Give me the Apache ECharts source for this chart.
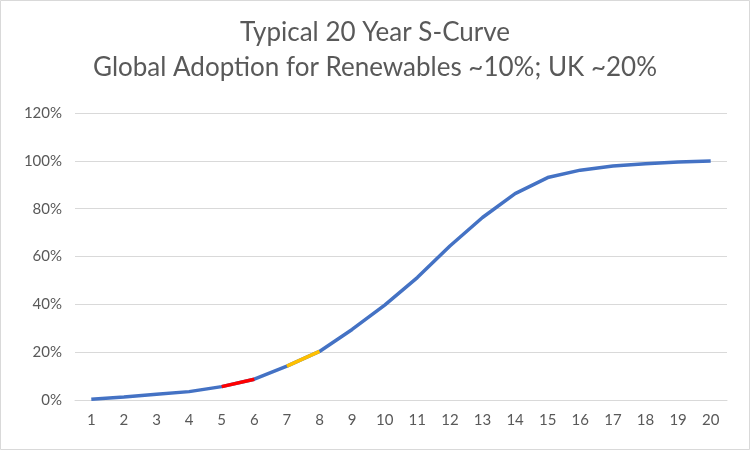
<!DOCTYPE html>
<html>
<head>
<meta charset="utf-8">
<script src="https://cdn.jsdelivr.net/npm/echarts@6/dist/echarts.min.js"></script>
<style>
  html, body { margin: 0; padding: 0; background: #fff; }
  #chart { width: 750px; height: 450px; }
</style>
</head>
<body>
<div id="chart"></div>
<script>
var years = ['1', '2', '3', '4', '5', '6', '7', '8', '9', '10', '11', '12', '13', '14', '15', '16', '17', '18', '19', '20']
// adoption in %
var adoption = [0.3, 1.3, 2.4, 3.5, 5.6, 8.7, 14.2, 20.3, 29.5, 39.7, 51.2, 64.4, 76.3, 86.3, 93.0, 96.1, 97.8, 98.8, 99.5, 99.9]
// highlighted stretches (global ~10%, UK ~20%)
var globalSeg = [null, null, null, null, 5.6, 8.7, null, null, null, null, null, null, null, null, null, null, null, null, null, null]
var ukSeg = [null, null, null, null, null, null, 14.2, 20.3, null, null, null, null, null, null, null, null, null, null, null, null]
var yTicks = [0, 20, 40, 60, 80, 100, 120]

var myChart = echarts.init(document.getElementById('chart'))

function lineSeries(name, data, color, z) {
  return {
    name: name,
    type: 'line',
    data: data,
    symbol: 'none',
    z: z,
    connectNulls: false,
    lineStyle: { color: color, width: 3.5, cap: 'butt' },
    itemStyle: { color: color }
  }
}

var option = {
  animation: false,
  backgroundColor: '#fff',
  title: {
    text: 'Typical 20 Year S-Curve\nGlobal Adoption for Renewables ~10%; UK ~20%',
    left: 'center',
    top: 10,
    textStyle: {
      color: '#595959',
      fontFamily: 'Lato',
      fontWeight: 'normal',
      fontSize: 26,
      lineHeight: 35
    }
  },
  graphic: [
    {
      type: 'rect',
      shape: { x: 0.5, y: 0.5, width: 749, height: 449 },
      style: { fill: 'none', stroke: '#d9d9d9', lineWidth: 1 },
      silent: true
    }
  ],
  grid: { left: 75, right: 23, top: 113, bottom: 50 },
  xAxis: {
    type: 'category',
    data: years,
    boundaryGap: true,
    axisLine: { lineStyle: { color: '#d9d9d9', width: 1 } },
    axisTick: { show: false },
    axisLabel: { color: '#595959', fontSize: 15, fontFamily: 'Lato', margin: 13, interval: 0 }
  },
  yAxis: {
    type: 'value',
    min: yTicks[0],
    max: yTicks[yTicks.length - 1],
    interval: 20,
    axisLine: { show: false },
    axisTick: { show: false },
    splitLine: { lineStyle: { color: '#d9d9d9', width: 1 } },
    axisLabel: {
      color: '#595959',
      fontSize: 15,
      fontFamily: 'Lato',
      margin: 13,
      formatter: function(v) { return v + '%' }
    }
  },
  series: [
    lineSeries('S-Curve', adoption, '#4472C4', 2),
    lineSeries('Global', globalSeg, '#FF0000', 3),
    lineSeries('UK', ukSeg, '#FFC000', 3)
  ]
}
myChart.setOption(option)
</script>
</body>
</html>
